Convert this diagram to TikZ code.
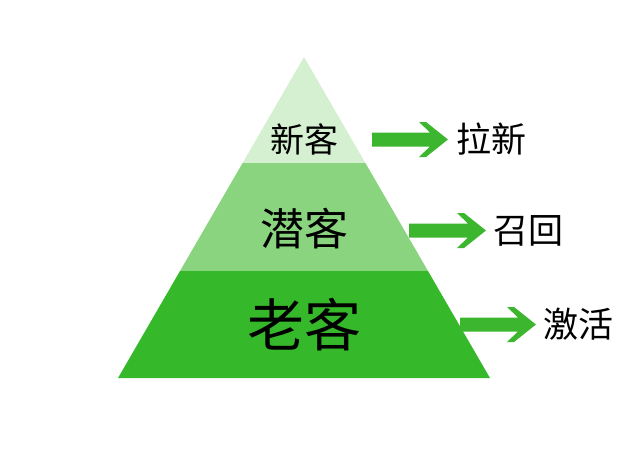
\documentclass[tikz,border=0pt]{standalone}
\usepackage{fontspec}
\setmainfont{Noto Sans CJK SC}
\usepackage{tikz}
\usetikzlibrary{calc, positioning}
\definecolor{topgreen}{HTML}{D5F0D0}
\definecolor{midgreen}{HTML}{8AD47F}
\definecolor{lowgreen}{HTML}{36B82B}
\definecolor{arrowgreen}{HTML}{3BB62E}

\begin{document}
\begin{tikzpicture}[x=1pt,y=-1pt,inner sep=0pt,node distance=8pt]%
\tikzset{layer/.style={text=black},
         tag/.style={text=black,font=\fontsize{35}{35}\selectfont},
         ar/.style={fill=arrowgreen,to path={($(\tikztostart)+(0,-7)$) -- ($(\tikztotarget)+(-18,-7)$)
           -- ($(\tikztotarget)+(-29,-17.5)$) -- ($(\tikztotarget)+(-22,-17.5)$) -- (\tikztotarget)
           -- ($(\tikztotarget)+(-22,17.5)$) -- ($(\tikztotarget)+(-29,17.5)$)
           -- ($(\tikztotarget)+(-18,7)$) -- ($(\tikztostart)+(0,7)$) -- cycle}}}
\useasboundingbox (0,0) rectangle (640,452);
\fill[topgreen] (304,57) -- (242.6,163) -- (365.4,163) -- cycle;
\fill[midgreen] (242.6,163) -- (365.4,163) -- (428,271) -- (180,271) -- cycle;
\fill[lowgreen] (180,271) -- (428,271) -- (490,378) -- (118,378) -- cycle;
\draw node [layer,font=\fontsize{34}{34}\selectfont] (K1) at (304,139) {新客};
\draw node [layer,font=\fontsize{44}{44}\selectfont] (K2) at (304,229) {潜客};
\draw node [layer,font=\fontsize{57}{57}\selectfont] (K3) at (304,325) {老客};
\coordinate (A1) at (372,139.5);  \coordinate (B1) at (448,139.5);
\coordinate (A2) at (409,230.5);  \coordinate (B2) at (486,230.5);
\coordinate (A3) at (460,324.5);  \coordinate (B3) at (536,324.5);
\fill [ar] (A1) to (B1);
\fill [ar] (A2) to (B2);
\fill [ar] (A3) to (B3);
\draw node [tag,right=8pt of B1] (T1) {拉新};
\draw node [tag,right=7pt of B2] (T2) {召回};
\draw node [tag,right=7pt of B3] (T3) {激活};
\end{tikzpicture}
\end{document}
